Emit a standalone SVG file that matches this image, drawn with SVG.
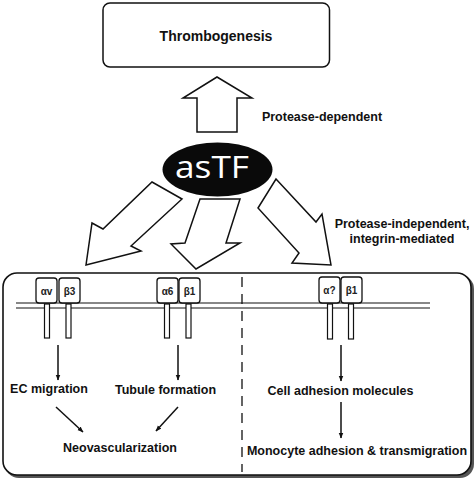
<svg xmlns="http://www.w3.org/2000/svg" width="474" height="478" viewBox="0 0 474 478">
<defs>
<style>
.lbl{font-family:"Liberation Sans",Arial,sans-serif;font-weight:bold;font-size:12.5px;fill:#111;text-anchor:middle}
.big{fill:#fff;stroke:#111;stroke-width:1.5;stroke-linejoin:miter}
.intg{fill:#fff;stroke:#111;stroke-width:1.3}
.itxt{font-family:"Liberation Sans",Arial,sans-serif;font-weight:bold;font-size:10px;fill:#222;text-anchor:middle}
.stem{fill:#fff;stroke:#111;stroke-width:1.2}
.conn{stroke:#111;stroke-width:1.5;fill:none;marker-end:url(#ah)}
</style>
<marker id="ah" viewBox="0 0 10 10" refX="9" refY="5" markerWidth="6" markerHeight="6" markerUnits="userSpaceOnUse" orient="auto">
<path d="M0,1 L10,5 L0,9 Z" fill="#111"/>
</marker>
</defs>
<rect width="474" height="478" fill="#fff"/>

<g id="thrombogenesis">
<rect x="103" y="3" width="226.5" height="64" rx="7" fill="#fff" stroke="#111" stroke-width="1.5"/>
<text class="lbl" x="216" y="40.5" style="font-size:14px">Thrombogenesis</text>
</g>

<g id="astf">
<ellipse cx="217.5" cy="169.5" rx="55" ry="27" fill="#0a0a0a"/>
<text x="212" y="178" font-family="'Open Sans','Noto Sans',sans-serif" font-size="31" fill="#fff" text-anchor="middle" textLength="74" lengthAdjust="spacingAndGlyphs">asTF</text>
</g>

<g id="labels">
<text class="lbl" x="322" y="121">Protease-dependent</text>
<text class="lbl" x="402" y="228">Protease-independent,</text>
<text class="lbl" x="402" y="243">integrin-mediated</text>
</g>

<g id="panel">
<rect x="5" y="275" width="469" height="203" rx="14" fill="#555"/>
<rect x="3" y="273" width="468" height="202" rx="14" fill="#fff" stroke="#111" stroke-width="1.6"/>
<line x1="16" y1="303" x2="430" y2="303" stroke="#111" stroke-width="1.1"/>
<line x1="16" y1="308" x2="430" y2="308" stroke="#111" stroke-width="1.1"/>
<line x1="242" y1="277" x2="242" y2="472" stroke="#111" stroke-width="1.3" stroke-dasharray="10,7"/>
</g>

<g id="integrin-avb3">
<rect class="stem" x="44.5" y="304" width="5" height="34"/>
<rect class="stem" x="66" y="304" width="5" height="34"/>
<rect class="intg" x="36" y="278" width="21" height="25" rx="3"/>
<rect class="intg" x="59" y="278" width="21" height="25" rx="3"/>
<text class="itxt" x="46.5" y="295">αv</text>
<text class="itxt" x="69.5" y="295">β3</text>
</g>

<g id="integrin-a6b1">
<rect class="stem" x="164.5" y="304" width="5" height="34"/>
<rect class="stem" x="186" y="304" width="5" height="34"/>
<rect class="intg" x="157" y="278" width="21" height="25" rx="3"/>
<rect class="intg" x="179" y="278" width="21" height="25" rx="3"/>
<text class="itxt" x="167.5" y="295">α6</text>
<text class="itxt" x="189.5" y="295">β1</text>
</g>

<g id="integrin-aXb1">
<rect class="stem" x="327.5" y="304" width="5" height="35"/>
<rect class="stem" x="348.5" y="304" width="5" height="35"/>
<rect class="intg" x="319" y="277" width="21" height="26" rx="3"/>
<rect class="intg" x="341" y="277" width="21" height="26" rx="3"/>
<text class="itxt" x="329.5" y="294">α?</text>
<text class="itxt" x="351.5" y="294">β1</text>
</g>

<g id="ec-migration"><text class="lbl" x="49" y="393">EC migration</text></g>
<g id="tubule-formation"><text class="lbl" x="165.5" y="393.5">Tubule formation</text></g>
<g id="neovascularization"><text class="lbl" x="120" y="452">Neovascularization</text></g>
<g id="cell-adhesion"><text class="lbl" x="340.5" y="395">Cell adhesion molecules</text></g>
<g id="monocyte"><text class="lbl" x="357" y="455">Monocyte adhesion &amp; transmigration</text></g>

<g id="connectors">
<polygon class="big" points="217,77 252,98 237,98 237,132 197,132 197,98 183,98"/>
<polygon class="big" points="152,182 182,199 131,246 141,251 86,265 92,223 103,229"/>
<polygon class="big" points="200,199 240,199 226,243 240,243 196,269 171,244 185,243"/>
<polygon class="big" points="276,179 316,222 322,214 331,265 292,263 299,253 258,208"/>
<line class="conn" x1="58" y1="345" x2="58" y2="380"/>
<line class="conn" x1="178" y1="345" x2="178" y2="380"/>
<line class="conn" x1="341" y1="345" x2="341" y2="381"/>
<line class="conn" x1="341" y1="402" x2="341" y2="438"/>
<line class="conn" x1="56" y1="407" x2="83" y2="432"/>
<line class="conn" x1="178" y1="407" x2="156" y2="431"/>
</g>
</svg>
